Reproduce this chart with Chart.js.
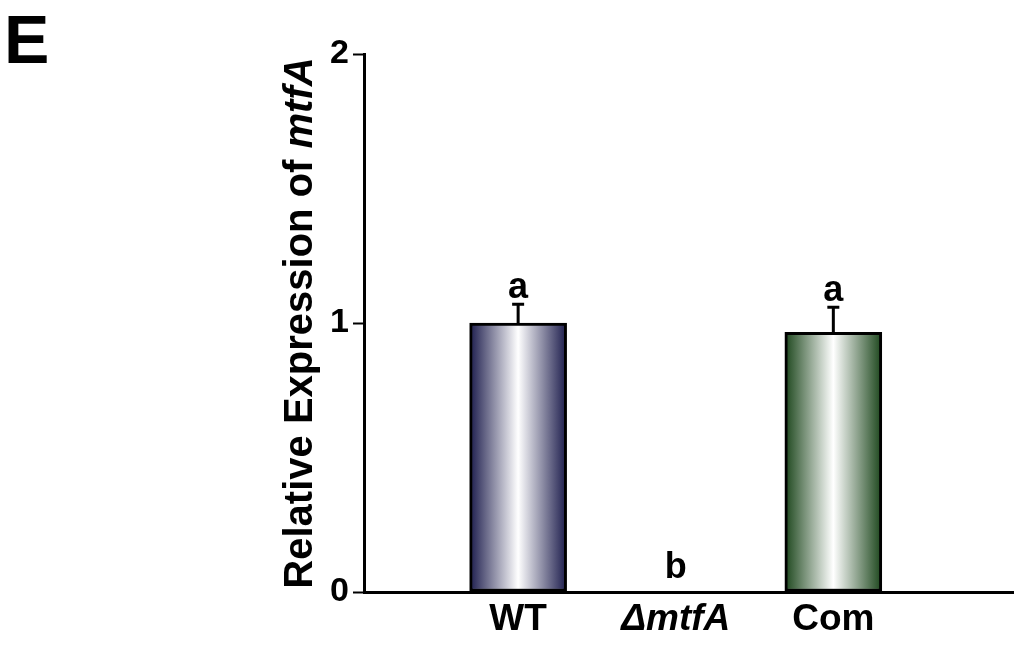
<!DOCTYPE html>
<html>
<head>
<meta charset="utf-8">
<script src="https://cdn.jsdelivr.net/npm/chart.js@4.4.1/dist/chart.umd.min.js"></script>
<style>
html,body{margin:0;padding:0;background:#fff;}
#wrap{width:1024px;height:645px;}
</style>
</head>
<body>
<div id="wrap"><canvas id="c" width="1024" height="645"></canvas></div>
<script>
const categories = ['WT', '\u0394mtfA', 'Com'];
const meanValues = [1.0, 0.0, 0.965];
const errorValues = [0.07, 0.0, 0.094];
const groupLetters = ['a', 'b', 'a'];
const edgeColors = ['#1c1c4c', '#1c1c4c', '#1c461c'];
const yTickValues = [0, 1, 2];
const panelLabel = 'E';
const yTitleMain = 'Relative Expression of ';
const yTitleItalic = 'mtfA';

const FONT = '"Liberation Sans", Arial, sans-serif';
const BAR_W = 97;

const points = categories.map((c, i) => ({x: i + 1, y: meanValues[i]}));

function barGradient(ctx) {
  const chart = ctx.chart;
  const xs = chart.scales && chart.scales.x;
  const i = ctx.dataIndex;
  if (!xs || !chart.chartArea || i === undefined) return edgeColors[i || 0];
  const cx = xs.getPixelForValue(i + 1);
  const g = chart.ctx.createLinearGradient(cx - BAR_W / 2, 0, cx + BAR_W / 2, 0);
  g.addColorStop(0, edgeColors[i]);
  g.addColorStop(0.5, '#ffffff');
  g.addColorStop(1, edgeColors[i]);
  return g;
}

const annotations = {
  id: 'annotations',
  afterDatasetsDraw(chart) {
    const ctx = chart.ctx;
    const xs = chart.scales.x, ys = chart.scales.y;
    ctx.save();
    categories.forEach((c, i) => {
      const cx = xs.getPixelForValue(i + 1);
      const yTop = ys.getPixelForValue(meanValues[i]);
      const yErr = ys.getPixelForValue(meanValues[i] + errorValues[i]);
      if (errorValues[i] > 0) {
        ctx.strokeStyle = '#000';
        ctx.lineWidth = 3;
        ctx.beginPath();
        ctx.moveTo(cx, yTop);
        ctx.lineTo(cx, yErr);
        ctx.moveTo(cx - 6, yErr);
        ctx.lineTo(cx + 6, yErr);
        ctx.stroke();
      }
      ctx.fillStyle = '#000';
      ctx.font = 'bold 36px ' + FONT;
      ctx.textAlign = 'center';
      ctx.textBaseline = 'alphabetic';
      const off = errorValues[i] > 0 ? 6 : 14;
      ctx.fillText(groupLetters[i], cx, yErr - off);
    });
    ctx.restore();
  },
  afterDraw(chart) {
    const ctx = chart.ctx;
    ctx.save();
    ctx.fillStyle = '#000';
    ctx.font = 'bold 68px ' + FONT;
    ctx.textAlign = 'left';
    ctx.textBaseline = 'alphabetic';
    ctx.fillText(panelLabel, 4, 63);
    const f1 = 'bold 40px ' + FONT;
    const f2 = 'italic bold 40px ' + FONT;
    ctx.font = f1; const w1 = ctx.measureText(yTitleMain).width;
    ctx.font = f2; const w2 = ctx.measureText(yTitleItalic).width;
    const total = w1 + w2;
    const cy = (chart.chartArea.top + chart.chartArea.bottom) / 2;
    ctx.translate(312, cy);
    ctx.rotate(-Math.PI / 2);
    ctx.textAlign = 'left';
    ctx.textBaseline = 'alphabetic';
    ctx.font = f1;
    ctx.fillText(yTitleMain, -total / 2, 0);
    ctx.font = f2;
    ctx.fillText(yTitleItalic, -total / 2 + w1, 0);
    ctx.restore();
  }
};

new Chart(document.getElementById('c'), {
  type: 'bar',
  data: {
    datasets: [{
      data: points,
      backgroundColor: barGradient,
      borderColor: '#000',
      borderWidth: 3,
      borderSkipped: false,
      barThickness: BAR_W
    }]
  },
  options: {
    responsive: false,
    animation: false,
    devicePixelRatio: 1,
    layout: {padding: {left: 0, top: 54, right: 11, bottom: 0}},
    plugins: {legend: {display: false}, tooltip: {enabled: false}},
    scales: {
      x: {
        type: 'linear',
        offset: false,
        min: 0.022,
        max: 4.14,
        afterBuildTicks(scale) { scale.ticks = categories.map((c, i) => ({value: i + 1})); },
        afterFit(scale) { scale.height = 53; },
        grid: {display: false, drawTicks: false, offset: false},
        border: {display: true, color: '#000', width: 3},
        ticks: {
          color: '#000',
          padding: 6,
          autoSkip: false,
          maxRotation: 0,
          callback: (v) => categories[Math.round(v) - 1] || '',
          font: (ctx) => ({
            family: FONT,
            size: 37,
            weight: 'bold',
            style: (ctx.tick && Math.round(ctx.tick.value) === 2) ? 'italic' : 'normal'
          })
        }
      },
      y: {
        min: 0,
        max: 2,
        afterBuildTicks(scale) { scale.ticks = yTickValues.map(v => ({value: v})); },
        afterFit(scale) { scale.width = 364; },
        grid: {display: true, drawOnChartArea: false, drawTicks: true, tickLength: 11, tickColor: '#000', tickWidth: 2},
        border: {display: true, color: '#000', width: 3},
        ticks: {
          color: '#000',
          padding: 4,
          font: {family: FONT, size: 34, weight: 'bold'},
          callback: (v) => String(v)
        }
      }
    }
  },
  plugins: [annotations]
});
</script>
</body>
</html>
